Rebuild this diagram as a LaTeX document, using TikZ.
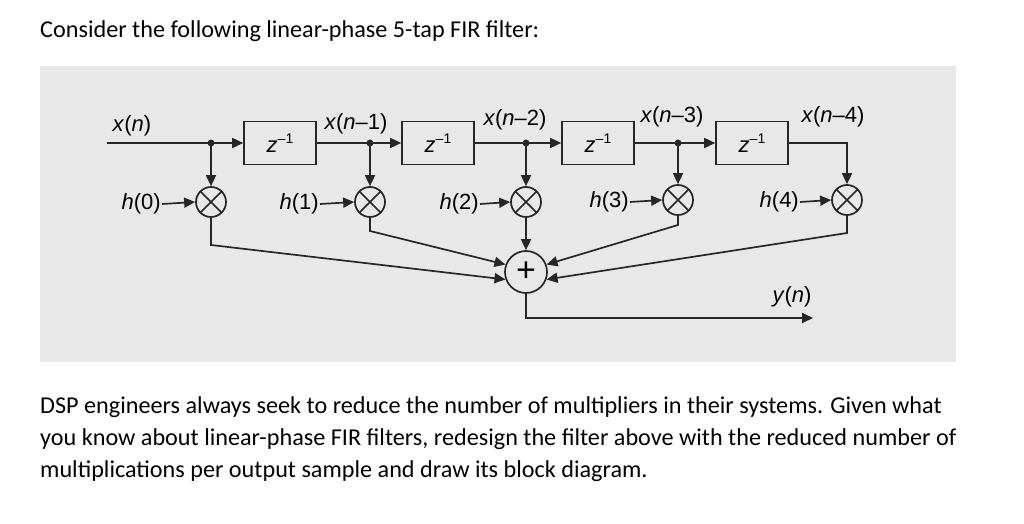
\documentclass[tikz,border=0pt]{standalone}
\usepackage{fontspec}
\setmainfont{Carlito}
\newfontfamily\dg{Liberation Sans}
\usetikzlibrary{arrows.meta}
\begin{document}
\begin{tikzpicture}[x=1pt,y=-1pt,
  sig/.style={draw=black!85,line width=1.7pt},
  arr/.style={sig,-{Triangle[length=11pt,width=10pt]}},
  dbox/.style={draw=black!85,line width=1.7pt,minimum width=72pt,minimum height=43pt,inner sep=0pt,font=\dg\fontsize{22}{22}\selectfont},
  mult/.style={circle,draw=black!85,line width=1.7pt,minimum size=30pt,inner sep=0pt,path picture={\draw[black!85,line width=1.5pt] ([xshift=4,yshift=-4]path picture bounding box.north west) -- ([xshift=-4,yshift=4]path picture bounding box.south east); \draw[black!85,line width=1.5pt] ([xshift=4,yshift=4]path picture bounding box.south west) -- ([xshift=-4,yshift=-4]path picture bounding box.north east);}},
  lab/.style={font=\dg\fontsize{22}{22}\selectfont,inner sep=1pt},
  txt/.style={anchor=base west,inner sep=0pt,font=\fontsize{24.2}{24.2}\selectfont},
  dot/.style={circle,fill=black!85,inner sep=0pt,minimum size=7pt}]
\useasboundingbox (0,0) rectangle (1024,524);
\fill[white] (0,0) rectangle (1024,524);
\fill[gray!18] (40,66) rectangle (956,362);
\node[txt] (title) at (40,38) {Consider the following linear-phase 5-tap FIR filter:};
\node[txt] (p1) at (40,413) {DSP engineers always seek to reduce the number of multipliers in their systems. Given what};
\node[txt] (p2) at (40,445) {you know about linear-phase FIR filters, redesign the filter above with the reduced number of};
\node[txt] (p3) at (40,477) {multiplications per output sample and draw its block diagram.};
\coordinate (in) at (107,143);
\coordinate (t0) at (211,143);
\node[dbox] (d1) at (280,143) {\textit{z}\raisebox{0.8ex}{\fontsize{14}{14}\selectfont –1}};
\coordinate (t1) at (370,143);
\node[dbox] (d2) at (438,143) {\textit{z}\raisebox{0.8ex}{\fontsize{14}{14}\selectfont –1}};
\coordinate (t2) at (526,143);
\node[dbox] (d3) at (598,143) {\textit{z}\raisebox{0.8ex}{\fontsize{14}{14}\selectfont –1}};
\coordinate (t3) at (678,143);
\node[dbox] (d4) at (752,143) {\textit{z}\raisebox{0.8ex}{\fontsize{14}{14}\selectfont –1}};
\coordinate (c4) at (847,143);
\node[mult] (m0) at (211,202) {};
\node[mult] (m1) at (370,202) {};
\node[mult] (m2) at (526,202) {};
\node[mult] (m3) at (678,200) {};
\node[mult] (m4) at (847,200) {};
\node[circle,draw=black!85,line width=1.7pt,minimum size=42pt,inner sep=0pt,font=\dg\fontsize{34}{34}\selectfont] (add) at (526,272) {+};
\draw[sig] (in) -- (t0); \draw[arr] (t0) -- (d1.west);
\draw[sig] (d1.east) -- (t1); \draw[arr] (t1) -- (d2.west);
\draw[sig] (d2.east) -- (t2); \draw[arr] (t2) -- (d3.west);
\draw[sig] (d3.east) -- (t3); \draw[arr] (t3) -- (d4.west);
\draw[arr] (d4.east) -- (c4) -- (m4.north);
\foreach \t/\m in {t0/m0,t1/m1,t2/m2,t3/m3}{\node[dot] at (\t) {}; \draw[arr] (\t) -- (\m.north);}
\node[lab] (lx0) at (132,126) {\textit{x}(\textit{n})};
\node[lab] (lx1) at (356,124) {\textit{x}(\textit{n}–1)};
\node[lab] (lx2) at (515,120) {\textit{x}(\textit{n}–2)};
\node[lab] (lx3) at (672,117) {\textit{x}(\textit{n}–3)};
\node[lab] (lx4) at (833,117) {\textit{x}(\textit{n}–4)};
\node[lab,anchor=east] (h0) at (162,204) {\textit{h}(0)};
\node[lab,anchor=east] (h1) at (320,204) {\textit{h}(1)};
\node[lab,anchor=east] (h2) at (480,204) {\textit{h}(2)};
\node[lab,anchor=east] (h3) at (630,202) {\textit{h}(3)};
\node[lab,anchor=east] (h4) at (800,202) {\textit{h}(4)};
\draw[arr] (h0.east) -- (m0.west);
\draw[arr] (h1.east) -- (m1.west);
\draw[arr] (h2.east) -- (m2.west);
\draw[arr] (h3.east) -- (m3.west);
\draw[arr] (h4.east) -- (m4.west);
\draw[arr] (m0.south) -- (211,245) -- (add.200);
\draw[arr] (m1.south) -- (370,231) -- (add.160);
\draw[arr] (m2.south) -- (add.north);
\draw[arr] (m3.south) -- (678,225) -- (add.20);
\draw[arr] (m4.south) -- (847,233) -- (add.340);
\coordinate (yo) at (813,318);
\draw[arr] (add.south) -- (526,318) -- (yo);
\node[lab] (ly) at (792,297) {\textit{y}(\textit{n})};
\end{tikzpicture}
\end{document}
